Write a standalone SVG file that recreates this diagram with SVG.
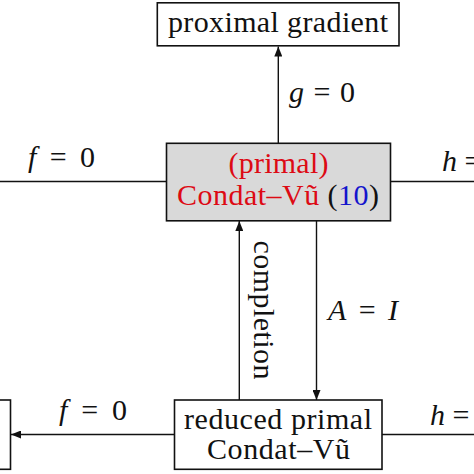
<svg xmlns="http://www.w3.org/2000/svg" width="474" height="474" viewBox="0 0 474 474">
<style>
text{font-family:"Liberation Serif","DejaVu Serif",serif;font-size:30px;fill:#111}
.box{fill:#fff;stroke:#111;stroke-width:1.6}
.gray{fill:#d9d9d9}
.edge{stroke:#111;stroke-width:1.4;fill:none}
.red{fill:#dd0a14}
.blue{fill:#1414cc}
.it{font-style:italic}
</style>
<defs>
<marker id="ah" viewBox="0 0 10 8" refX="10" refY="4" markerWidth="10" markerHeight="8" markerUnits="userSpaceOnUse" orient="auto">
<path d="M0,0 L10,4 L0,8 Z" fill="#111"/>
</marker>
</defs>
<rect width="474" height="474" fill="#fff"/>
<g id="connectors">
<line class="edge" x1="278.3" y1="143" x2="278.3" y2="46.5" marker-end="url(#ah)"/>
<line class="edge" x1="0" y1="181.5" x2="166.5" y2="181.5"/>
<line class="edge" x1="390.5" y1="181.5" x2="474" y2="181.5"/>
<line class="edge" x1="239.3" y1="400" x2="239.3" y2="221" marker-end="url(#ah)"/>
<line class="edge" x1="316.5" y1="221" x2="316.5" y2="400" marker-end="url(#ah)"/>
<line class="edge" x1="174.5" y1="434.5" x2="11" y2="434.5" marker-end="url(#ah)"/>
<line class="edge" x1="382" y1="434.5" x2="474" y2="434.5"/>
<text x="289" y="102" textLength="66"><tspan class="it">g</tspan> = 0</text>
<text x="28" y="167" textLength="67"><tspan class="it">f</tspan> = 0</text>
<text x="442" y="171"><tspan class="it">h</tspan> =</text>
<text transform="translate(254,310) rotate(90)" text-anchor="middle" textLength="139">completion</text>
<text x="328" y="320" textLength="70"><tspan class="it">A</tspan> = <tspan class="it">I</tspan></text>
<text x="59" y="420" textLength="68"><tspan class="it">f</tspan> = 0</text>
<text x="430" y="425"><tspan class="it">h</tspan> =</text>
</g>
<g id="proximal">
<rect class="box" x="157.3" y="2.8" width="241.7" height="43"/>
<text x="168" y="32" textLength="220">proximal gradient</text>
</g>
<g id="condat">
<rect class="box gray" x="166.5" y="143.3" width="224" height="77.5"/>
<text x="278.5" y="173" text-anchor="middle" class="red" textLength="100">(primal)</text>
<text x="177" y="205" textLength="202"><tspan class="red">Condat–Vũ </tspan>(<tspan class="blue">10</tspan>)</text>
</g>
<g id="reduced">
<rect class="box" x="174.5" y="400" width="207.5" height="69.3"/>
<text x="184" y="428.7" textLength="188">reduced primal</text>
<text x="207" y="458.7" textLength="143">Condat–Vũ</text>
</g>
<g id="leftbox">
<rect class="box" x="-50" y="400" width="60.5" height="69.3"/>
</g>
</svg>
